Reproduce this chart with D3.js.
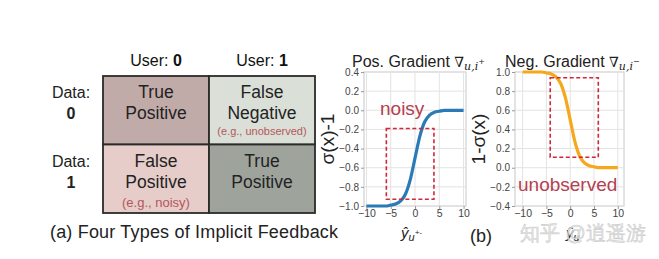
<!DOCTYPE html>
<html>
<head>
<meta charset="utf-8">
<script src="https://cdn.jsdelivr.net/npm/d3@7"></script>
<style>
  body { margin: 0; background: #fff; }
  svg text { font-family: "Liberation Sans", Arial, sans-serif; }
</style>
</head>
<body>
<div id="chart"></div>
<script>
//Matrix data
var users = ["0", "1"];
var dataRows = ["0", "1"];
var cells = [
  {row: 0, col: 0, lines: ["True", "Positive"], note: "", fill: "#c1aba9"},
  {row: 0, col: 1, lines: ["False", "Negative"], note: "(e.g., unobserved)", fill: "#dadfd7"},
  {row: 1, col: 0, lines: ["False", "Positive"], note: "(e.g., noisy)", fill: "#e6cdca"},
  {row: 1, col: 1, lines: ["True", "Positive"], note: "", fill: "#9ea49c"}
];

//Gradient curves
var xs = [-10,-9,-8,-7,-6,-5,-4,-3,-2,-1,0,1,2,3,4,5,6,7,8,9,10];
var posVals = [-1,-1,-1,-1,-1,-0.99,-0.98,-0.95,-0.88,-0.73,-0.5,-0.27,-0.12,-0.05,-0.02,-0.01,0,0,0,0,0];
var negVals = [1,1,1,1,1,0.99,0.98,0.95,0.88,0.73,0.5,0.27,0.12,0.05,0.02,0.01,0,0,0,0,0];
var xTicks = [-10, -5, 0, 5, 10];
var posTicks = [0.4, 0.2, 0.0, -0.2, -0.4, -0.6, -0.8, -1.0];
var negTicks = [1.0, 0.8, 0.6, 0.4, 0.2, 0.0, -0.2, -0.4];
var posBox = [-5.9, 3.9, -0.19, -0.93];
var negBox = [-4.2, 5.9, 0.94, 0.11];

var w = 659, h = 259;
var svg = d3.select("#chart").append("svg").attr("width", w).attr("height", h);

//Four types matrix
var gx = d3.scaleBand().domain(users).range([103, 315]);
var gy = d3.scaleBand().domain(dataRows).range([76, 213]);

svg.selectAll("rect.cell").data(cells).enter().append("rect")
  .attr("x", function(d) { return gx(users[d.col]); })
  .attr("y", function(d) { return gy(dataRows[d.row]); })
  .attr("width", gx.bandwidth()).attr("height", gy.bandwidth())
  .attr("fill", function(d) { return d.fill; })
  .attr("stroke", "#2b2b2b").attr("stroke-width", 1.8);

cells.forEach(function(d) {
  var cx = gx(users[d.col]) + gx.bandwidth() / 2;
  var top = gy(dataRows[d.row]);
  d.lines.forEach(function(t, i) {
    svg.append("text").attr("x", cx).attr("y", top + 22 + i * 21)
      .attr("text-anchor", "middle").attr("font-size", 17.5).attr("fill", "#222").text(t);
  });
  if (d.note) {
    svg.append("text").attr("x", cx).attr("y", top + (d.row == 0 ? 59 : 62))
      .attr("text-anchor", "middle").attr("font-size", d.row == 0 ? 11 : 13)
      .attr("fill", "#b5575c").text(d.note);
  }
});

users.forEach(function(u) {
  var t = svg.append("text").attr("x", gx(u) + gx.bandwidth() / 2).attr("y", 66)
    .attr("text-anchor", "middle").attr("font-size", 16).attr("fill", "#111");
  t.append("tspan").text("User: ");
  t.append("tspan").attr("font-weight", "bold").text(u);
});
dataRows.forEach(function(r) {
  var y0 = gy(r);
  svg.append("text").attr("x", 71).attr("y", y0 + 22).attr("text-anchor", "middle")
    .attr("font-size", 16).attr("fill", "#222").text("Data:");
  svg.append("text").attr("x", 71).attr("y", y0 + 43).attr("text-anchor", "middle")
    .attr("font-size", 16).attr("font-weight", "bold").attr("fill", "#222").text(r);
});
svg.append("text").attr("x", 50).attr("y", 238).attr("font-size", 18).attr("fill", "#222")
  .attr("textLength", 288).text("(a) Four Types of Implicit Feedback");

//Gradient panels
function panel(opt) {
  var x = d3.scaleLinear().domain(opt.xdom).range(opt.xr);
  var y = d3.scaleLinear().domain(opt.ydom).range([206, 72]);
  var g = svg.append("g");

  g.append("rect").attr("x", opt.xr[0]).attr("y", 72)
    .attr("width", opt.xr[1] - opt.xr[0]).attr("height", 134)
    .attr("fill", "#fff").attr("stroke", "#c8c8c8").attr("stroke-width", 1);

  g.selectAll("line.vg").data(xTicks).enter().append("line")
    .attr("x1", function(d) { return x(d); }).attr("x2", function(d) { return x(d); })
    .attr("y1", 72).attr("y2", 206).attr("stroke", "#e3e3e3");
  g.selectAll("line.hg").data(opt.yticks).enter().append("line")
    .attr("x1", opt.xr[0]).attr("x2", opt.xr[1])
    .attr("y1", function(d) { return y(d); }).attr("y2", function(d) { return y(d); })
    .attr("stroke", "#e3e3e3");

  var yfmt = function(d) { return d3.format(".1f")(d).replace("-", "\u2212"); };
  var xfmt = function(d) { return d3.format("d")(d).replace("-", "\u2212"); };
  g.append("g").attr("transform", "translate(" + opt.xr[0] + ",0)")
    .call(d3.axisLeft(y).tickValues(opt.yticks).tickFormat(yfmt).tickSize(3).tickPadding(2))
    .call(function(a) {
      a.select(".domain").remove();
      a.selectAll("line").attr("stroke", "#999");
      a.selectAll("text").attr("font-size", 10).attr("fill", "#444")
        .attr("font-family", "DejaVu Sans, sans-serif");
    });
  g.append("g").attr("transform", "translate(0,206)")
    .call(d3.axisBottom(x).tickValues(xTicks).tickFormat(xfmt).tickSize(3).tickPadding(1))
    .call(function(a) {
      a.select(".domain").remove();
      a.selectAll("line").attr("stroke", "#999");
      a.selectAll("text").attr("font-size", 10.5).attr("fill", "#444")
        .attr("font-family", "DejaVu Sans, sans-serif");
    });

  var line = d3.line().x(function(d, i) { return x(xs[i]); })
    .y(function(d) { return y(d); }).curve(d3.curveMonotoneX);
  g.append("path").datum(opt.vals).attr("d", line).attr("fill", "none")
    .attr("stroke", opt.color).attr("stroke-width", 3.2);

  var b = opt.box;
  g.append("rect").attr("x", x(b[0])).attr("y", y(b[2]))
    .attr("width", x(b[1]) - x(b[0])).attr("height", y(b[3]) - y(b[2]))
    .attr("fill", "none").attr("stroke", "#d0283a").attr("stroke-width", 1.6)
    .attr("stroke-dasharray", "4,2.5");

  g.append("text").attr("x", opt.wordX).attr("y", opt.wordY).attr("font-size", 19)
    .attr("fill", "#b5404f").text(opt.word);

  var t = g.append("text").attr("x", opt.titleX).attr("y", 67).attr("font-size", 16).attr("fill", "#222");
  t.append("tspan").text(opt.title + " ");
  t.append("tspan").attr("font-size", 14).attr("font-family", "DejaVu Serif, serif").text("\u2207");
  t.append("tspan").attr("font-size", 11).attr("font-style", "italic")
    .attr("font-family", "DejaVu Serif, serif").attr("dy", 3).text("u,i");
  t.append("tspan").attr("font-size", 8).attr("font-style", "italic")
    .attr("font-family", "DejaVu Serif, serif").attr("dy", -6).text(opt.sup);

  g.append("text").attr("transform", "translate(" + opt.ylabX + ",139) rotate(-90)")
    .attr("text-anchor", "middle").attr("font-size", 19).attr("fill", "#222")
    .attr("font-family", "DejaVu Sans, sans-serif").text(opt.ylab);

  var xl = g.append("text").attr("x", opt.xlabX).attr("y", 238)
    .attr("font-family", "DejaVu Serif, serif").attr("font-style", "italic")
    .attr("font-size", 15).attr("fill", "#222");
  xl.append("tspan").text("\u0177");
  xl.append("tspan").attr("font-size", 11).attr("dy", 3).text("u");
  if (opt.xsup) xl.append("tspan").attr("font-size", 8).attr("dy", -6).text(opt.xsup);
}

panel({xdom: [-10.5, 10.5], xr: [364, 466], ydom: [-1.0, 0.4], yticks: posTicks,
  vals: posVals, color: "#2a7ab8", box: posBox, word: "noisy", wordX: 380, wordY: 115,
  title: "Pos. Gradient", titleX: 352, sup: "+", ylab: "\u03c3(x)-1", ylabX: 334,
  xlabX: 401, xsup: "+-"});
panel({xdom: [-11.6, 11.3], xr: [515, 624], ydom: [-0.4, 1.0], yticks: negTicks,
  vals: negVals, color: "#f5a81c", box: negBox, word: "unobserved", wordX: 518, wordY: 191,
  title: "Neg. Gradient", titleX: 505, sup: "\u2212", ylab: "1-\u03c3(x)", ylabX: 485,
  xlabX: 566, xsup: ""});

svg.append("text").attr("x", 470).attr("y", 242).attr("font-size", 18).attr("fill", "#222").text("(b)");

//Watermark
svg.append("text").attr("x", 520).attr("y", 240).attr("font-size", 20)
  .attr("font-family", "Noto Sans CJK SC, sans-serif")
  .attr("fill", "#e6e6e6").attr("fill-opacity", 0.85)
  .attr("stroke", "#bdbdbd").attr("stroke-width", 0.6).attr("stroke-opacity", 0.7)
  .text("知乎 @逍遥游");
</script>
</body>
</html>
